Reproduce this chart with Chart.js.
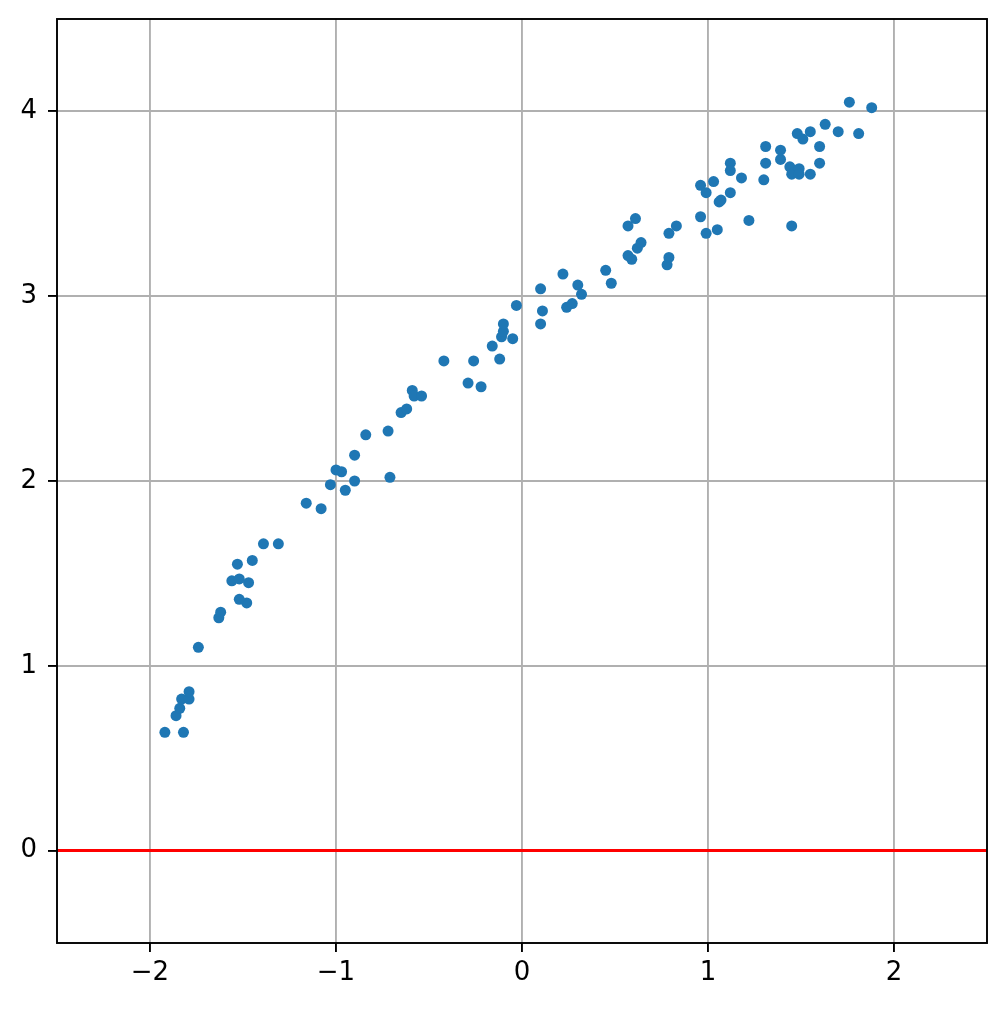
<!DOCTYPE html>
<html>
<head>
<meta charset="utf-8">
<script src="https://cdn.jsdelivr.net/npm/chart.js@4"></script>
<style>
  html, body { margin: 0; padding: 0; background: #fff; }
  #wrap { width: 1007px; height: 1011px; }
</style>
</head>
<body>
<div id="wrap"><canvas id="scatter" width="1007" height="1011"></canvas></div>
<script>
// scatter samples
const xs = [-1.92, -1.82, -1.86, -1.84, -1.83, -1.79, -1.79, -1.74, -1.63, -1.62,
  -1.56, -1.52, -1.48, -1.52, -1.47, -1.53, -1.45, -1.39, -1.31, -1.16,
  -1.08, -1.03, -1.00, -0.97, -0.95, -0.90, -0.90, -0.84, -0.72, -0.71,
  -0.65, -0.62, -0.59, -0.58, -0.54, -0.42, -0.29, -0.26, -0.22, -0.16,
  -0.12, -0.11, -0.10, -0.10, -0.05, -0.03, 0.10, 0.10, 0.11, 0.22,
  0.24, 0.27, 0.30, 0.32, 0.45, 0.48, 0.57, 0.57, 0.59, 0.61,
  0.62, 0.64, 0.78, 0.79, 0.79, 0.83, 0.96, 0.96, 0.99, 0.99,
  1.03, 1.06, 1.07, 1.05, 1.12, 1.12, 1.12, 1.18, 1.22, 1.30,
  1.31, 1.31, 1.39, 1.39, 1.44, 1.45, 1.45, 1.48, 1.49, 1.49,
  1.51, 1.55, 1.55, 1.60, 1.60, 1.63, 1.70, 1.76, 1.81, 1.88];
const ys = [0.64, 0.64, 0.73, 0.77, 0.82, 0.82, 0.86, 1.10, 1.26, 1.29,
  1.46, 1.47, 1.34, 1.36, 1.45, 1.55, 1.57, 1.66, 1.66, 1.88,
  1.85, 1.98, 2.06, 2.05, 1.95, 2.00, 2.14, 2.25, 2.27, 2.02,
  2.37, 2.39, 2.49, 2.46, 2.46, 2.65, 2.53, 2.65, 2.51, 2.73,
  2.66, 2.78, 2.81, 2.85, 2.77, 2.95, 3.04, 2.85, 2.92, 3.12,
  2.94, 2.96, 3.06, 3.01, 3.14, 3.07, 3.38, 3.22, 3.20, 3.42,
  3.26, 3.29, 3.17, 3.21, 3.34, 3.38, 3.60, 3.43, 3.56, 3.34,
  3.62, 3.51, 3.52, 3.36, 3.72, 3.68, 3.56, 3.64, 3.41, 3.63,
  3.81, 3.72, 3.74, 3.79, 3.70, 3.38, 3.66, 3.88, 3.69, 3.66,
  3.85, 3.89, 3.66, 3.81, 3.72, 3.93, 3.89, 4.05, 3.88, 4.02];

// horizontal reference line at y = 0
const refX = [-2.5, 2.5];
const refY = [0, 0];

const xTicks = [-2, -1, 0, 1, 2];
const yTicks = [0, 1, 2, 3, 4];

const fmt = v => (v < 0 ? '\u2212' + Math.abs(v) : String(v));

// matplotlib-like box around the axes
const frame = {
  id: 'frame',
  afterDraw(chart) {
    const a = chart.chartArea, c = chart.ctx;
    c.save();
    c.strokeStyle = '#000';
    c.lineWidth = 1.9;
    c.strokeRect(a.left, a.top, a.right - a.left, a.bottom - a.top);
    c.restore();
  }
};

const canvas = document.getElementById('scatter');
new Chart(canvas.getContext('2d'), {
  type: 'scatter',
  data: {
    datasets: [{
      data: xs.map((x, i) => ({ x: x, y: ys[i] })),
      backgroundColor: '#1f77b4',
      borderWidth: 0,
      pointRadius: 5.5,
      pointHoverRadius: 5.5
    }, {
      type: 'line',
      data: refX.map((x, i) => ({ x: x, y: refY[i] })),
      borderColor: 'red',
      borderWidth: 3,
      pointRadius: 0,
      fill: false
    }]
  },
  options: {
    responsive: false,
    animation: false,
    devicePixelRatio: 1,
    layout: { padding: { top: 19, right: 20, left: 0, bottom: 0 } },
    plugins: { legend: { display: false }, tooltip: { enabled: false } },
    scales: {
      x: {
        type: 'linear',
        min: -2.5,
        max: 2.5,
        afterBuildTicks: s => { s.ticks = xTicks.map(v => ({ value: v })); },
        afterFit: s => { s.height = 68; s.paddingLeft = 0; s.paddingRight = 0; },
        grid: { color: '#b0b0b0', lineWidth: 1.9, tickColor: '#000', tickWidth: 1.9, tickLength: 9 },
        border: { display: false },
        ticks: {
          color: '#000', padding: 6, maxRotation: 0,
          font: { family: 'DejaVu Sans', size: 26 },
          callback: v => fmt(v)
        }
      },
      y: {
        type: 'linear',
        min: -0.5,
        max: 4.5,
        afterBuildTicks: s => { s.ticks = yTicks.map(v => ({ value: v })); },
        afterFit: s => { s.width = 57; s.paddingTop = 0; s.paddingBottom = 0; },
        grid: { color: '#b0b0b0', lineWidth: 1.9, tickColor: '#000', tickWidth: 1.9, tickLength: 9 },
        border: { display: false },
        ticks: {
          color: '#000', padding: 11,
          font: { family: 'DejaVu Sans', size: 26 },
          callback: v => fmt(v)
        }
      }
    }
  },
  plugins: [frame]
});
</script>
</body>
</html>
